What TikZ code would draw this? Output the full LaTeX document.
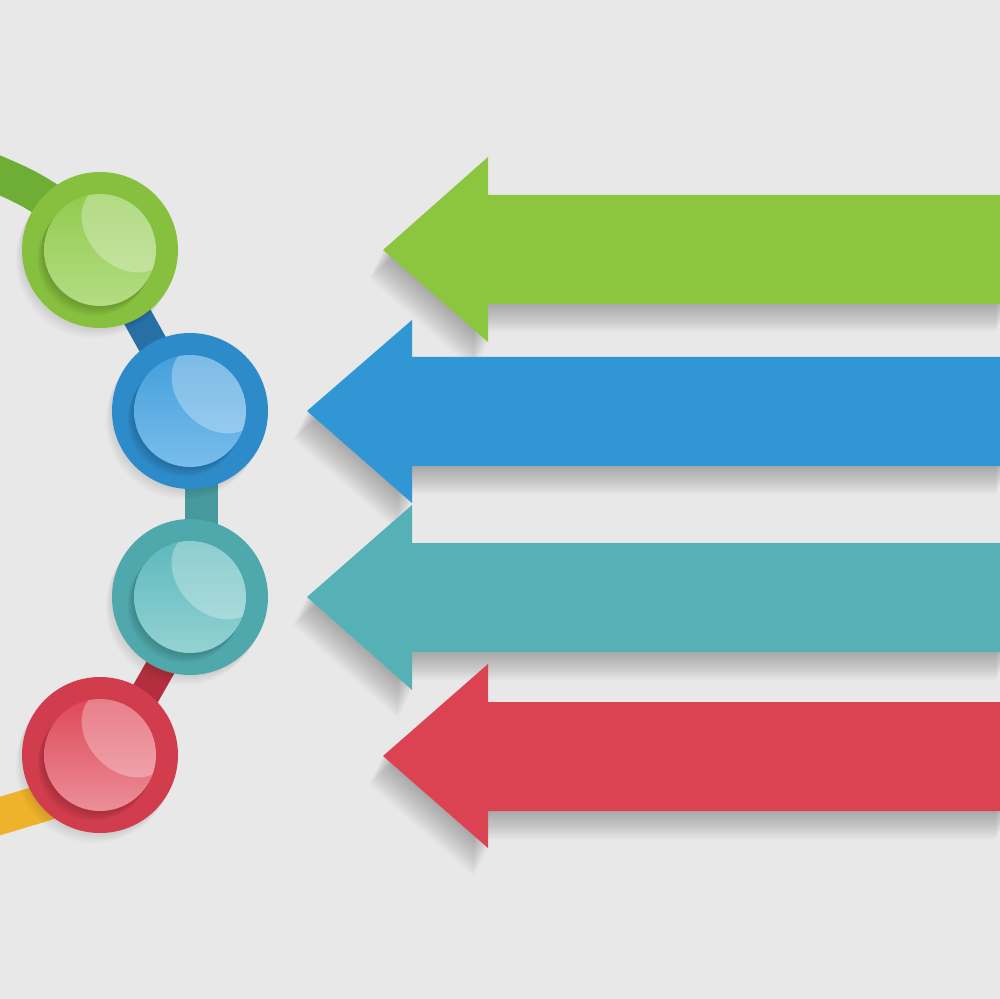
\documentclass[tikz,border=0pt]{standalone}
\begin{document}
\definecolor{bg}{HTML}{E8E8E8}
\definecolor{gA}{HTML}{8CC63F}
\definecolor{bA}{HTML}{3096D4}
\definecolor{tA}{HTML}{55B1B5}
\definecolor{rA}{HTML}{DC4352}
\definecolor{gR}{HTML}{86C03E}
\definecolor{bR}{HTML}{2E8BC9}
\definecolor{tR}{HTML}{4FA8AC}
\definecolor{rR}{HTML}{D13D4D}
\definecolor{gS1}{HTML}{92CB4E}
\definecolor{gS2}{HTML}{B4DC84}
\definecolor{bS1}{HTML}{459FDD}
\definecolor{bS2}{HTML}{78BDEB}
\definecolor{tS1}{HTML}{5DB9BD}
\definecolor{tS2}{HTML}{94D2D3}
\definecolor{rS1}{HTML}{DE4858}
\definecolor{rS2}{HTML}{EC8F99}
\definecolor{gBand}{HTML}{6FAE36}
\definecolor{bBand}{HTML}{2770A6}
\definecolor{tBand}{HTML}{46999C}
\definecolor{rBand}{HTML}{B32F40}
\definecolor{yBand}{HTML}{EFB22B}
\newcommand\myarrow[8]{% color, tipx, tipy, headx, headtop, shafttop, shaftbot, headbot
  \foreach \i in {1,...,14}{
    \fill[black,opacity=.018,shift={(-1.0*\i,2.0*\i)}]
      (#2,#3) -- (#4,#5) -- (#4,#6) -- (1010,#6) -- (1010,#7) -- (#4,#7) -- (#4,#8) -- cycle;
  }
  \fill[#1] (#2,#3) -- (#4,#5) -- (#4,#6) -- (1010,#6) -- (1010,#7) -- (#4,#7) -- (#4,#8) -- cycle;
}
\newcommand\mybadge[5]{% coord, ring, sphere top, sphere bottom, highlight
  \foreach \i in {1,...,5}{
    \fill[black,opacity=.018] ([shift={(-1.2*\i,2*\i)}]#1) circle (78);
  }
  \fill[#2] (#1) circle (78);
  \foreach \i in {1,...,5}{
    \fill[black,opacity=.035] ([shift={(-1.2*\i,1.8*\i)}]#1) circle (56.5);
  }
  \shade[top color=#3,bottom color=#4] (#1) circle (56);
  \begin{scope}
    \clip (#1) circle (56);
    \fill[#5,opacity=.3] ([shift={(26,-22)}]#1) ellipse [x radius=50,y radius=38,rotate=-45];
  \end{scope}
}
\begin{tikzpicture}[x=0.2mm,y=-0.2mm,band/.style={line width=#1}]
\useasboundingbox (0,0) rectangle (1000,999);
\clip (0,0) rectangle (1000,999);
\fill[bg] (0,0) rectangle (1000,999);
% arrows
\myarrow{gA}{383}{250}{488}{157}{195}{304}{342}
\myarrow{bA}{307}{411}{412}{320}{357}{466}{503}
\myarrow{tA}{307}{597}{412}{505}{543}{652}{690}
\myarrow{rA}{383}{756}{488}{664}{702}{811}{848}
% badge centres
\coordinate (g) at (100,250);
\coordinate (b) at (190,411);
\coordinate (t) at (190,597);
\coordinate (r) at (100,755);
\coordinate (gin) at (-20,167);
\coordinate (gend) at (80,222);
\coordinate (yout) at (-20,822);
\coordinate (yend) at (60,798);
\coordinate (bt1) at (201,450);
\coordinate (bt2) at (201,560);
% connecting bands
\draw[band=7.4mm,gBand] (gin) .. controls (30,188) .. (gend);
\draw[band=6mm,bBand] (g) -- (b);
\draw[band=6.6mm,tBand] (bt1) -- (bt2);
\draw[band=6mm,rBand] ([xshift=6]t) -- ([xshift=6]r);
\draw[band=7.4mm,yBand] (yout) -- (yend);
% badges
\mybadge{g}{gR}{gS1}{gS2}{white}
\mybadge{b}{bR}{bS1}{bS2}{white}
\mybadge{t}{tR}{tS1}{tS2}{white}
\mybadge{r}{rR}{rS1}{rS2}{white}
\end{tikzpicture}
\end{document}
